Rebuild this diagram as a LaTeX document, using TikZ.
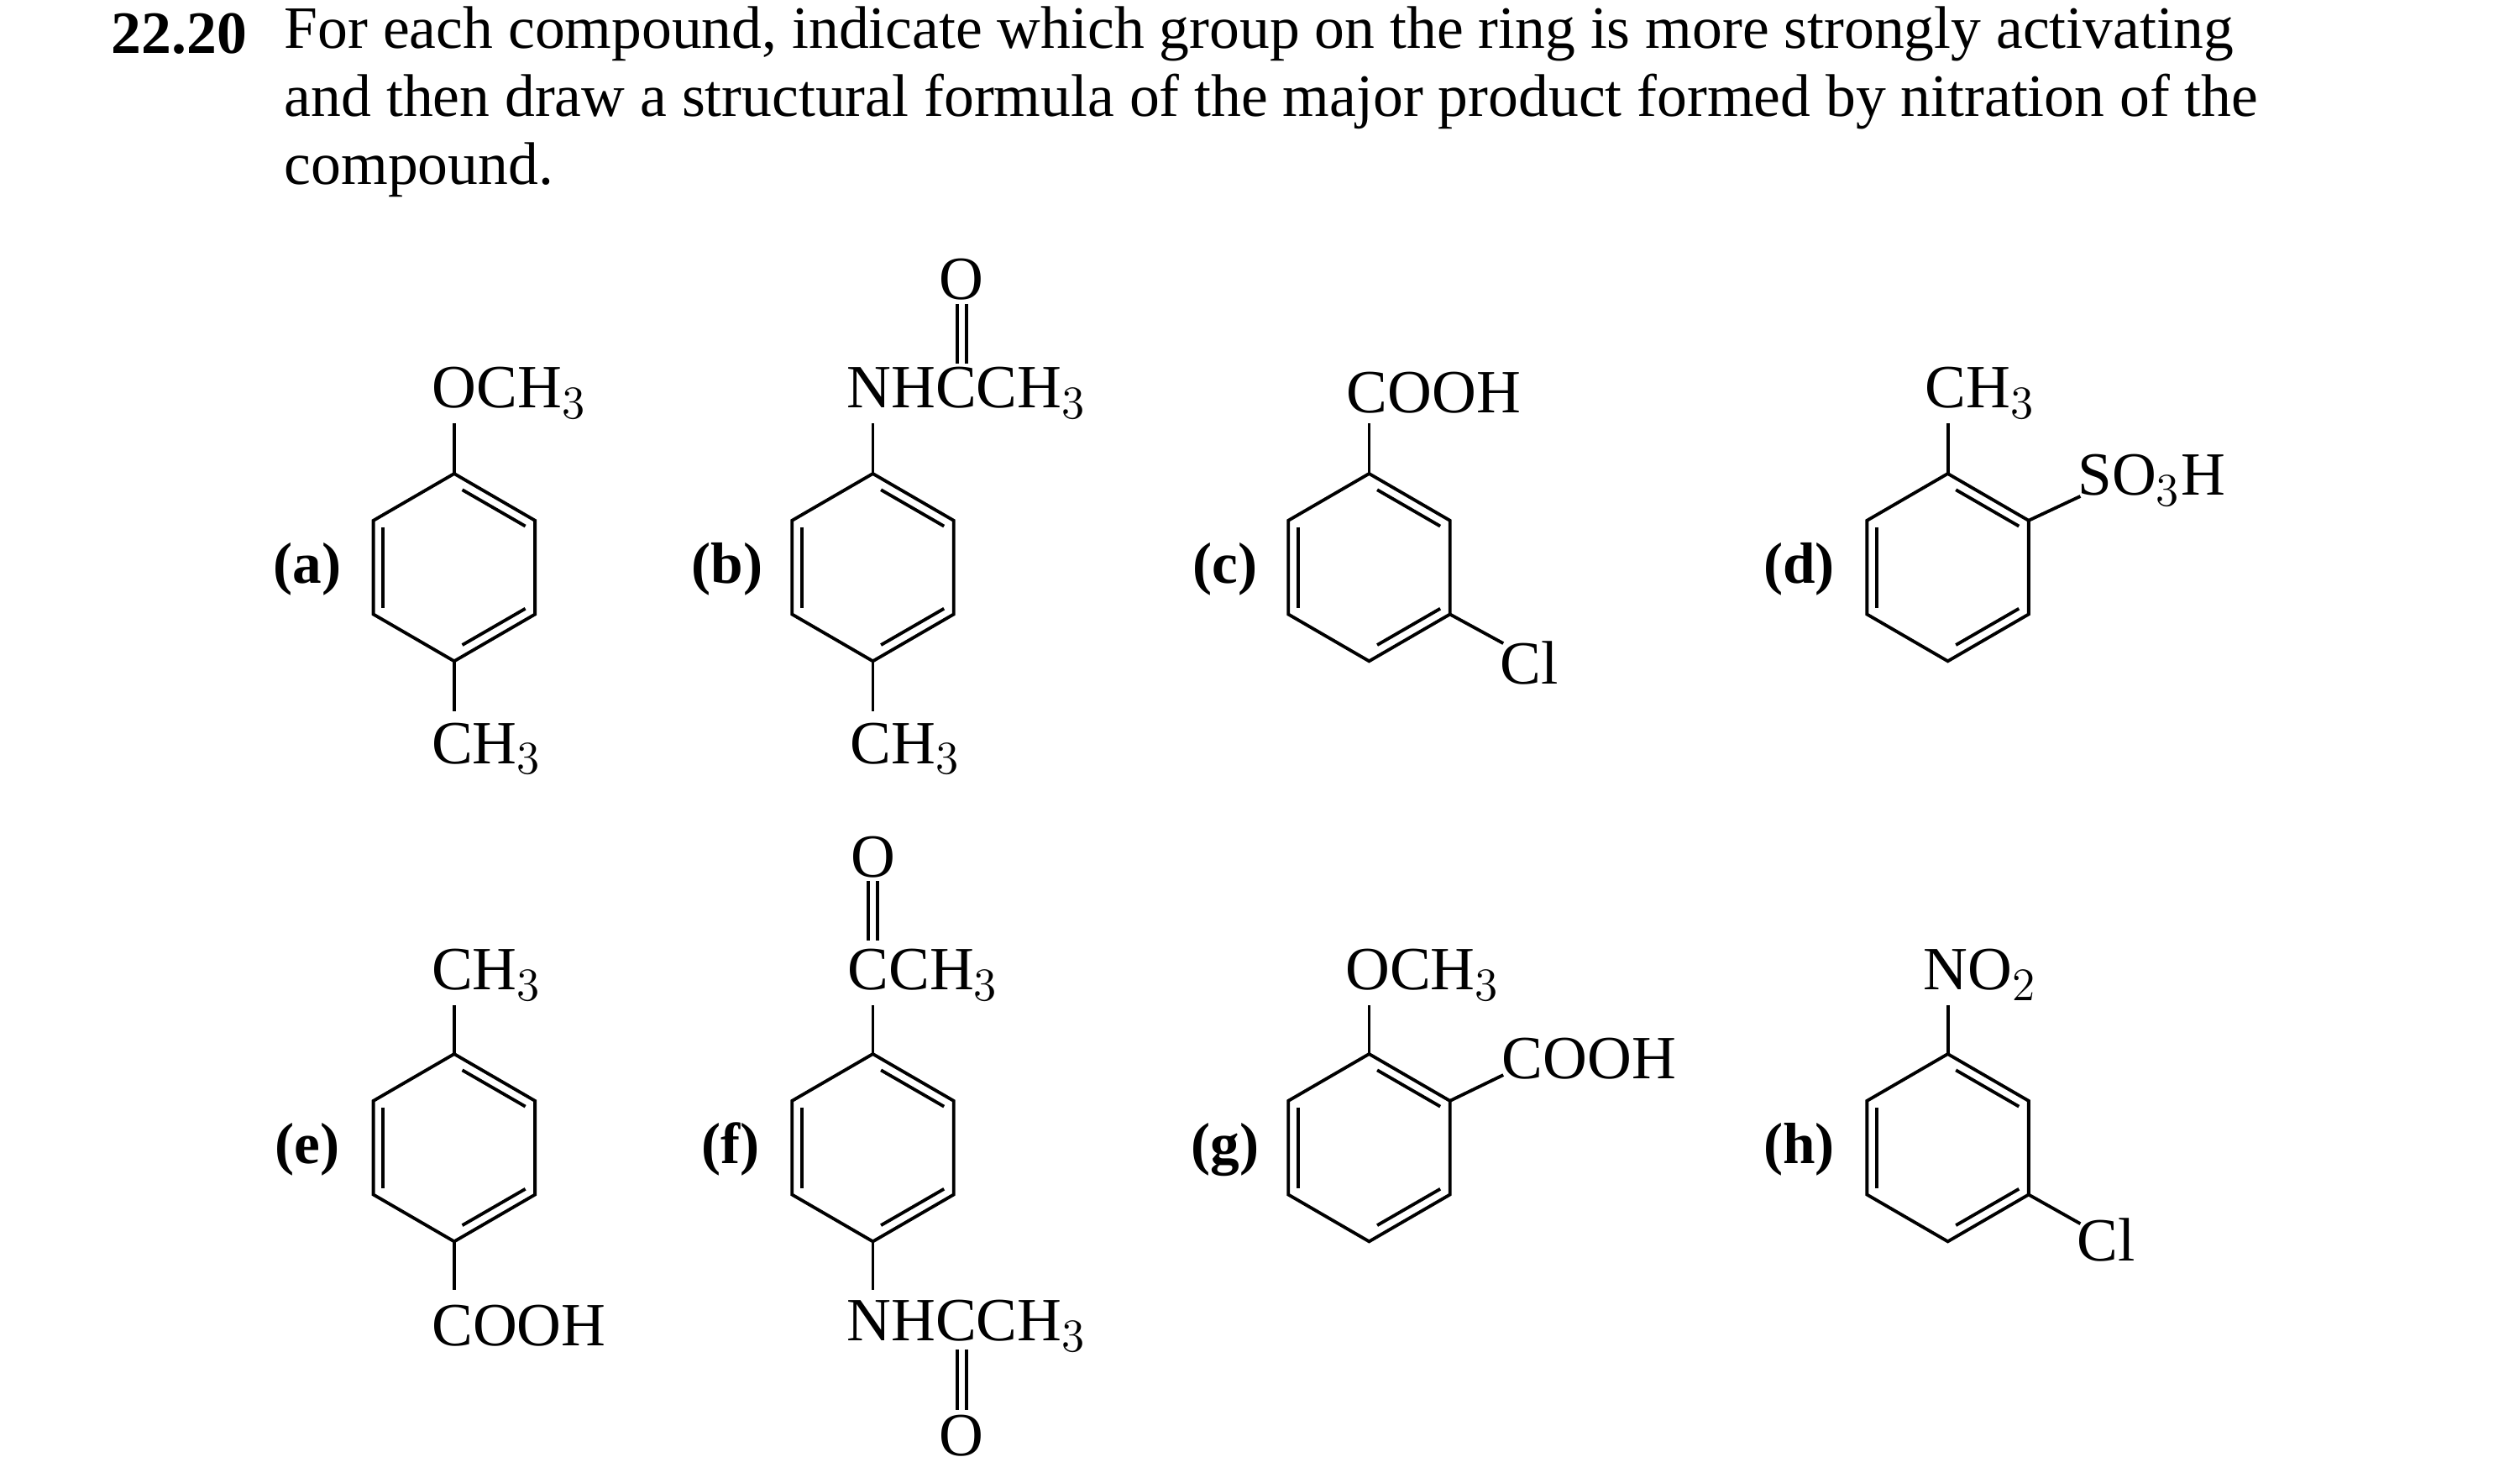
\documentclass[tikz,border=0pt]{standalone}
\usepackage{fontspec}
\setmainfont{Liberation Serif}
\begin{document}
\begin{tikzpicture}[x=0.5pt,y=-0.5pt,line width=1pt,
  lab/.style={inner sep=0pt,font=\fontsize{19}{20}\selectfont},
  tag/.style={inner sep=0pt,font=\fontsize{18}{20}\selectfont\bfseries},
  hd/.style={inner sep=0pt,anchor=west,font=\fontsize{18.6}{21}\selectfont}]
\useasboundingbox (0,0) rectangle (1559,914);
% ring macro
\newcommand{\ring}[3]{%
 \begin{scope}[shift={(#1,#2)}]
 \coordinate (#3T) at (0,-58); \coordinate (#3UR) at (50,-29);
 \coordinate (#3LR) at (50,29); \coordinate (#3B) at (0,58);
 \coordinate (#3LL) at (-50,29); \coordinate (#3UL) at (-50,-29);
 \draw (#3T)--(#3UR)--(#3LR)--(#3B)--(#3LL)--(#3UL)--cycle;
 \draw (-44,-25)--(-44,25);
 \draw (5,-48)--(44,-25.5);
 \draw (5,48)--(44,25.5);
 \end{scope}}
\node[hd,font=\fontsize{18.6}{21}\selectfont\bfseries] (num) at (68,21) {22.20};
\node[hd] (l1) at (175,21) {For each compound, indicate which group on the ring is more strongly activating};
\node[hd] (l2) at (175,63) {and then draw a structural formula of the major product formed by nitration of the};
\node[hd] (l3) at (175,105) {compound.};
% (a)
\ring{281}{351}{a}
\node[tag] (ta) at (190,352) {(a)};
\node[lab] (aO) at (315,243) {OCH$_3$};
\node[lab] (aC) at (301,463) {CH$_3$};
\draw (aT)--(281,262); \draw (aB)--(281,440);
% (b)
\ring{540}{351}{b}
\node[tag] (tb) at (450,352) {(b)};
\node[lab] (bN) at (598,243) {NHCCH$_3$};
\node[lab] (bO) at (595,173) {O};
\draw (592,188)--(592,225); \draw (598,188)--(598,225);
\node[lab] (bC) at (560,463) {CH$_3$};
\draw (bT)--(540,262); \draw (bB)--(540,440);
% (c)
\ring{847}{351}{c}
\node[tag] (tc) at (758,352) {(c)};
\node[lab] (cC) at (887,243) {COOH};
\node[lab] (cCl) at (946,410) {Cl};
\draw (cT)--(847,262); \draw (cLR)--(930,398);
% (d)
\ring{1205}{351}{d}
\node[tag] (td) at (1113,352) {(d)};
\node[lab] (dC) at (1225,243) {CH$_3$};
\node[lab] (dS) at (1331,297) {SO$_3$H};
\draw (dT)--(1205,262); \draw (dUR)--(1287,307);
% (e)
\ring{281}{710}{e}
\node[tag] (te) at (190,711) {(e)};
\node[lab] (eC) at (301,603) {CH$_3$};
\node[lab] (eX) at (321,820) {COOH};
\draw (eT)--(281,622); \draw (eB)--(281,798);
% (f)
\ring{540}{710}{f}
\node[tag] (tf) at (452,711) {(f)};
\node[lab] (fO) at (540,530) {O};
\draw (537,545)--(537,582); \draw (543,545)--(543,582);
\node[lab] (fC) at (571,603) {CCH$_3$};
\node[lab] (fN) at (598,820) {NHCCH$_3$};
\draw (592,835)--(592,872); \draw (598,835)--(598,872);
\node[lab] (fO2) at (595,888) {O};
\draw (fT)--(540,622); \draw (fB)--(540,798);
% (g)
\ring{847}{710}{g}
\node[tag] (tg) at (758,711) {(g)};
\node[lab] (gO) at (880,603) {OCH$_3$};
\node[lab] (gX) at (983,655) {COOH};
\draw (gT)--(847,622); \draw (gUR)--(930,665);
% (h)
\ring{1205}{710}{h}
\node[tag] (th) at (1113,711) {(h)};
\node[lab] (hN) at (1225,603) {NO$_2$};
\node[lab] (hCl) at (1303,767) {Cl};
\draw (hT)--(1205,622); \draw (hLR)--(1287,757);
\end{tikzpicture}
\end{document}
